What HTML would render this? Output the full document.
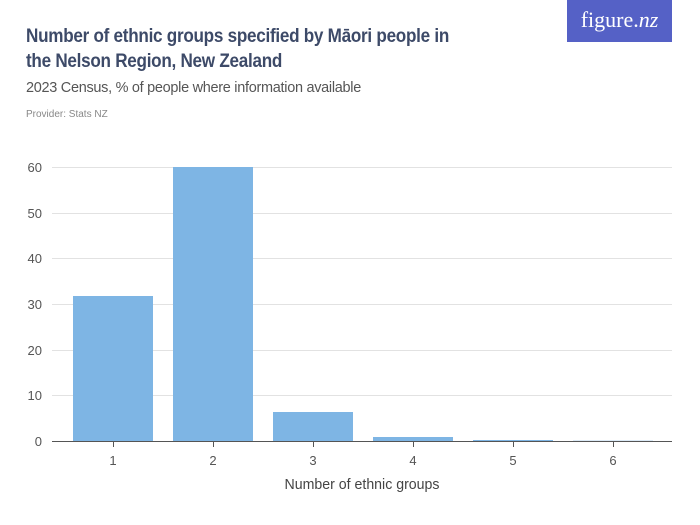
<!DOCTYPE html>
<html><head><meta charset="utf-8"><style>
body{margin:0;width:700px;height:525px;background:#fff;font-family:"Liberation Sans",sans-serif;position:relative;overflow:hidden}
.t{position:absolute;left:26px;top:24px;font-size:19px;font-weight:bold;color:#3d4a68;line-height:25px;letter-spacing:-0.3px;transform:scaleX(0.9);transform-origin:0 0;white-space:nowrap}
.s{position:absolute;left:26px;top:79px;font-size:15px;color:#555;letter-spacing:-0.3px;transform:scaleX(0.965);transform-origin:0 0;white-space:nowrap}
.p{position:absolute;left:26px;top:109px;font-size:10px;color:#888}
.logo{position:absolute;left:567px;top:0;width:105px;height:42px;background:#5561c6;color:#fff;font-family:"Liberation Serif",serif;font-size:22px;text-align:center;line-height:40px}
</style></head><body>
<div class="t">Number of ethnic groups specified by Māori people in<br>the Nelson Region, New Zealand</div>
<div class="s">2023 Census, % of people where information available</div>
<div class="p">Provider: Stats NZ</div>
<div class="logo">figure.<i>nz</i></div>
<svg width="700" height="525" style="position:absolute;left:0;top:0" font-family="Liberation Sans, sans-serif">
<g stroke="#e2e2e2" stroke-width="1">
<line x1="52" x2="672" y1="167.5" y2="167.5"/><line x1="52" x2="672" y1="213.5" y2="213.5"/><line x1="52" x2="672" y1="258.5" y2="258.5"/><line x1="52" x2="672" y1="304.5" y2="304.5"/><line x1="52" x2="672" y1="350.5" y2="350.5"/><line x1="52" x2="672" y1="395.5" y2="395.5"/>
</g>
<g font-size="13" fill="#555" text-anchor="end">
<text x="42" y="172">60</text><text x="42" y="218">50</text><text x="42" y="263">40</text><text x="42" y="309">30</text><text x="42" y="355">20</text><text x="42" y="400">10</text><text x="42" y="446">0</text>
</g>
<g fill="#7eb5e4">
<rect x="73" y="296" width="80" height="145"/>
<rect x="173" y="167" width="80" height="274"/>
<rect x="273" y="412" width="80" height="29"/>
<rect x="373" y="437" width="80" height="4"/>
<rect x="473" y="440" width="80" height="1.5"/>
<rect x="573" y="440.5" width="80" height="1" fill="#b8d4ee"/>
</g>
<line x1="52" x2="672" y1="441.5" y2="441.5" stroke="#555" stroke-width="1"/>
<g stroke="#555"><line x1="113.5" x2="113.5" y1="442" y2="447"/><line x1="213.5" x2="213.5" y1="442" y2="447"/><line x1="313.5" x2="313.5" y1="442" y2="447"/><line x1="413.5" x2="413.5" y1="442" y2="447"/><line x1="513.5" x2="513.5" y1="442" y2="447"/><line x1="613.5" x2="613.5" y1="442" y2="447"/></g>
<g font-size="13" fill="#555" text-anchor="middle">
<text x="113" y="465">1</text><text x="213" y="465">2</text><text x="313" y="465">3</text><text x="413" y="465">4</text><text x="513" y="465">5</text><text x="613" y="465">6</text>
<text x="362" y="489" font-size="15" fill="#444" textLength="155" lengthAdjust="spacingAndGlyphs">Number of ethnic groups</text>
</g>
</svg>
</body></html>
